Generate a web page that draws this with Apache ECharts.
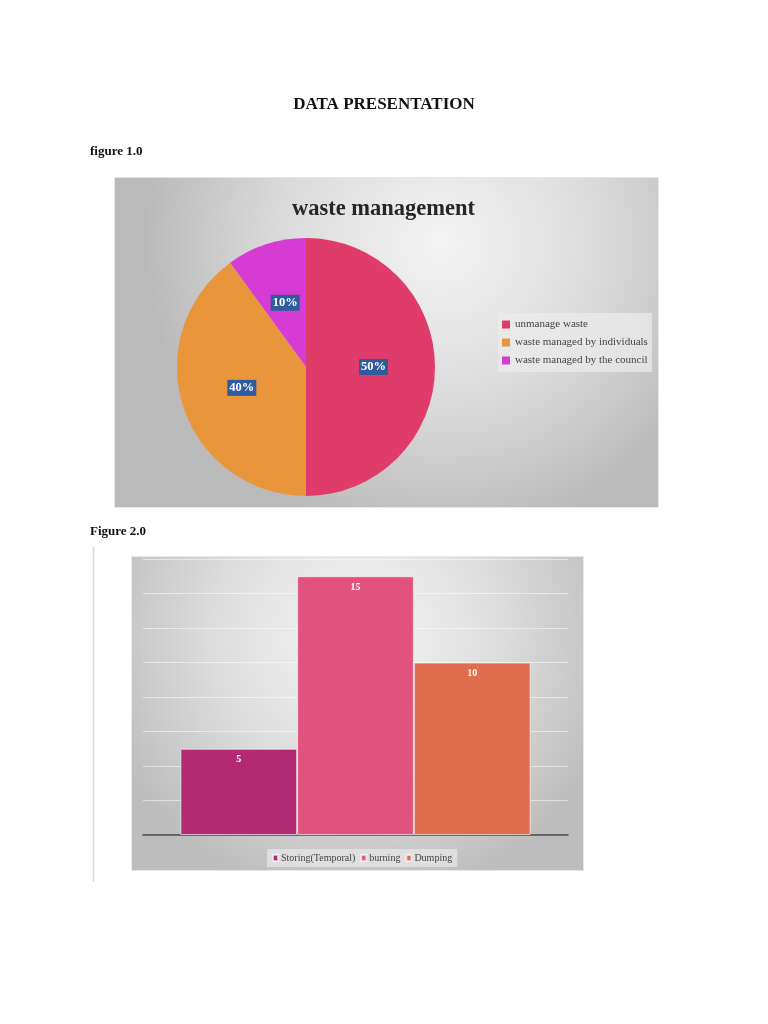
<!DOCTYPE html>
<html>
<head>
<meta charset="utf-8">
<script src="https://cdn.jsdelivr.net/npm/echarts@6/dist/echarts.min.js"></script>
<style>
html,body{margin:0;padding:0;background:#fff;}
#c{width:768px;height:1024px;}
</style>
</head>
<body>
<div id="c"></div>
<script>
var pieNames = ['unmanage waste', 'waste managed by individuals', 'waste managed by the council'];
var pieValues = [50, 40, 10];
var pieColors = ['#e03c6b', '#e8953c', '#d63bd4'];

var barCategories = [''];
var barSeriesNames = ['Storing(Temporal)', 'burning', 'Dumping'];
var barValues = [5, 15, 10];
var barColors = ['#b32a74', '#e2527f', '#e16d4f'];

var serif = '"Liberation Serif", "DejaVu Serif", serif';

var chart = echarts.init(document.getElementById('c'));

var pieData = pieNames.map(function (n, i) {
  return { name: n, value: pieValues[i], itemStyle: { color: pieColors[i] } };
});

var barSeries = barSeriesNames.map(function (n, i) {
  return {
    name: n,
    type: 'bar',
    xAxisIndex: 0,
    yAxisIndex: 0,
    barGap: '0%',
    barCategoryGap: '17.6%',
    itemStyle: { color: barColors[i], borderColor: 'rgba(255,255,255,0.6)', borderWidth: 1 },
    label: {
      show: true, position: 'insideTop', distance: 6,
      color: '#fff', fontFamily: serif, fontWeight: 'bold', fontSize: 10
    },
    data: [barValues[i]],
    z: 3
  };
});

var option = {
  backgroundColor: '#ffffff',
  animation: false,
  graphic: [
    { type: 'text', left: 'center', top: 96, z: 5,
      style: { text: 'DATA PRESENTATION', font: 'bold 17px ' + serif, fill: '#111' } },
    { type: 'text', left: 90, top: 145, z: 5,
      style: { text: 'figure 1.0', font: 'bold 13px ' + serif, fill: '#111' } },
    { type: 'rect', left: 114, top: 177, z: -10,
      shape: { width: 544, height: 330 },
      style: {
        fill: new echarts.graphic.RadialGradient(0.6, 0.2, 0.9, [
          { offset: 0, color: '#f4f4f4' },
          { offset: 0.55, color: '#dadada' },
          { offset: 1, color: '#bababa' }
        ]),
        stroke: '#e6e6e6', lineWidth: 1
      } },
    { type: 'text', left: 292, top: 198, z: 5,
      style: { text: 'waste management', font: 'bold 22.5px ' + serif, fill: '#262626' } },
    { type: 'text', left: 90, top: 525, z: 5,
      style: { text: 'Figure 2.0', font: 'bold 13px ' + serif, fill: '#111' } },
    { type: 'line', z: -10,
      shape: { x1: 93.5, y1: 547, x2: 93.5, y2: 882 },
      style: { stroke: '#d8d8d8', lineWidth: 1.5 } },
    { type: 'rect', left: 131, top: 556, z: -10,
      shape: { width: 452, height: 314 },
      style: {
        fill: new echarts.graphic.RadialGradient(0.5, 0.25, 0.85, [
          { offset: 0, color: '#f6f6f6' },
          { offset: 0.55, color: '#dcdcdc' },
          { offset: 1, color: '#bdbdbd' }
        ]),
        stroke: '#e8e8e8', lineWidth: 1
      } }
  ],
  legend: [
    {
      data: pieNames,
      orient: 'vertical',
      left: 498, top: 313,
      itemWidth: 8, itemHeight: 8, itemGap: 7,
      icon: 'rect',
      padding: [6, 4, 6, 4],
      backgroundColor: 'rgba(235,235,235,0.75)',
      textStyle: { fontFamily: serif, fontSize: 11, color: '#444' }
    },
    {
      data: barSeriesNames,
      orient: 'horizontal',
      left: 267, top: 849,
      itemWidth: 5, itemHeight: 6, itemGap: 5,
      icon: 'rect',
      padding: [4, 5, 4, 5],
      backgroundColor: 'rgba(225,225,225,0.9)',
      textStyle: { fontFamily: serif, fontSize: 10, color: '#444', padding: [0, 0, 0, -2] }
    }
  ],
  grid: { left: 143, right: 200, top: 559, bottom: 189, containLabel: false },
  xAxis: {
    type: 'category', data: barCategories,
    axisLine: { show: true, lineStyle: { color: '#444', width: 1.5 } },
    axisTick: { show: false }, axisLabel: { show: false }
  },
  yAxis: {
    type: 'value', min: 0, max: 16, interval: 2,
    axisLine: { show: false }, axisTick: { show: false }, axisLabel: { show: false },
    splitLine: { show: true, lineStyle: { color: 'rgba(255,255,255,0.5)', width: 1 } }
  },
  series: [
    {
      name: 'waste management',
      type: 'pie',
      center: [306, 367],
      radius: [0, 129],
      startAngle: 90,
      clockwise: true,
      data: pieData,
      label: {
        show: true, position: 'inside',
        formatter: '{d}%',
        color: '#fff', fontFamily: serif, fontWeight: 'bold', fontSize: 12.5,
        backgroundColor: '#2e5c9c', padding: [2, 2, 1, 2]
      },
      labelLine: { show: false },
      itemStyle: { borderWidth: 0 },
      z: 3
    }
  ].concat(barSeries)
};

chart.setOption(option);
</script>
</body>
</html>
